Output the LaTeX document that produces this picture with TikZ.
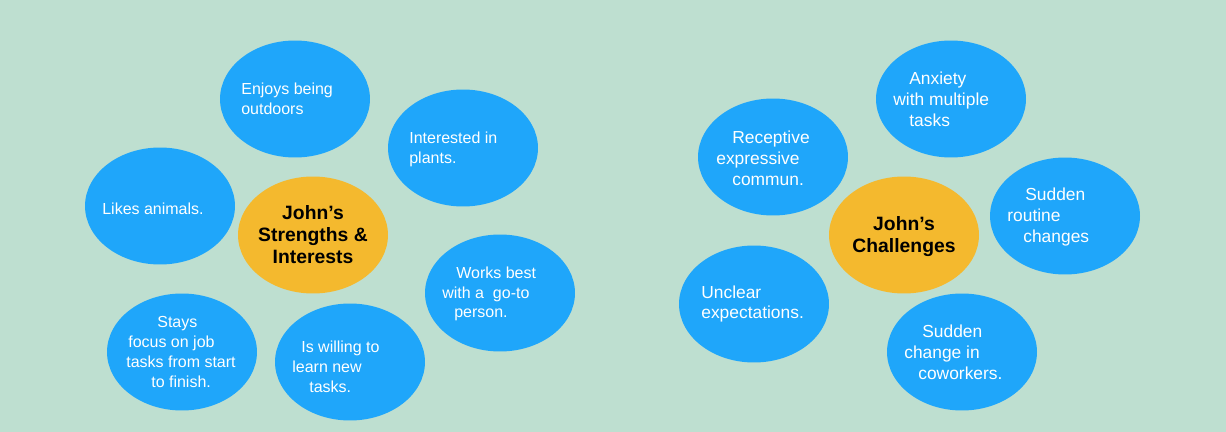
\documentclass[tikz,border=0pt]{standalone}
\usepackage{fontspec}
\setmainfont{Liberation Sans}
\usepackage{xcolor}
\usetikzlibrary{shapes.geometric}
\definecolor{bgmint}{RGB}{190,223,208}
\definecolor{bubbleblue}{RGB}{31,166,250}
\definecolor{hubgold}{RGB}{244,185,46}
\newlength{\pxu}
\setlength{\pxu}{0.02cm}
\newcommand{\indpx}[1]{\hspace*{#1\pxu}}

\begin{document}
\begin{tikzpicture}[x=0.02cm,y=-0.02cm,
  bubble/.style={ellipse,fill=bubbleblue,minimum width=3cm,minimum height=2.34cm,inner sep=0pt},
  hub/.style={bubble,fill=hubgold},
  ltxt/.style={anchor=west,inner sep=0pt,align=left,text=white,font=\fontsize{9.1}{11.3}\selectfont},
  rtxt/.style={ltxt,font=\fontsize{9.9}{11.9}\selectfont},
  hubtxt/.style={inner sep=0pt,align=center,text=black,font=\bfseries\fontsize{11}{12.5}\selectfont}]
  \path[use as bounding box,fill=bgmint] (0,0) rectangle (1226,432);
  % strengths side
  \node[bubble] (enjoy) at (295,99) {};
  \node[bubble] (plants) at (463,148) {};
  \node[bubble] (animals) at (160,206) {};
  \node[hub] (strengths) at (313,235) {};
  \node[bubble] (goto) at (500,293) {};
  \node[bubble] (stays) at (182,352) {};
  \node[bubble] (willing) at (350,362) {};
  \node[ltxt] (enjoyT) at (241,99) {Enjoys being\\outdoors};
  \node[ltxt] (plantsT) at (409,149) {Interested in\\plants.};
  \node[ltxt] (animalsT) at (102,209) {Likes animals.};
  \node[ltxt] (gotoT) at (442,294) {\indpx{14}Works best\\with a\ \ go-to\\\indpx{12}person.};
  \node[ltxt] (staysT) at (126,352) {\indpx{31}Stays\\\indpx{2}focus on job\\tasks from start\\\indpx{25}to finish.};
  \node[ltxt] (willingT) at (292,367) {\indpx{9}Is willing to\\learn new\\\indpx{17}tasks.};
  \node[hubtxt] (strengthsT) at (313,235) {John’s\\Strengths \&\\Interests};
  % challenges side
  \node[bubble] (anxiety) at (951,99) {};
  \node[bubble] (receptive) at (773,157) {};
  \node[hub] (challenges) at (904,235) {};
  \node[bubble] (routine) at (1065,216) {};
  \node[bubble] (unclear) at (754,304) {};
  \node[bubble] (coworkers) at (962,352) {};
  \node[rtxt] (anxietyT) at (893,99) {\indpx{16}Anxiety\\with multiple\\\indpx{16}tasks};
  \node[rtxt] (receptiveT) at (716,158) {\indpx{16}Receptive\\expressive\\\indpx{16}commun.};
  \node[rtxt] (routineT) at (1007,217) {\indpx{18}Sudden\\routine\\\indpx{16}changes};
  \node[rtxt] (unclearT) at (701,304) {Unclear\\expectations.};
  \node[rtxt] (coworkersT) at (904,352) {\indpx{18}Sudden\\change in\\\indpx{14}coworkers.};
  \node[hubtxt] (challengesT) at (904,237) {John’s\\Challenges};
\end{tikzpicture}
\end{document}
